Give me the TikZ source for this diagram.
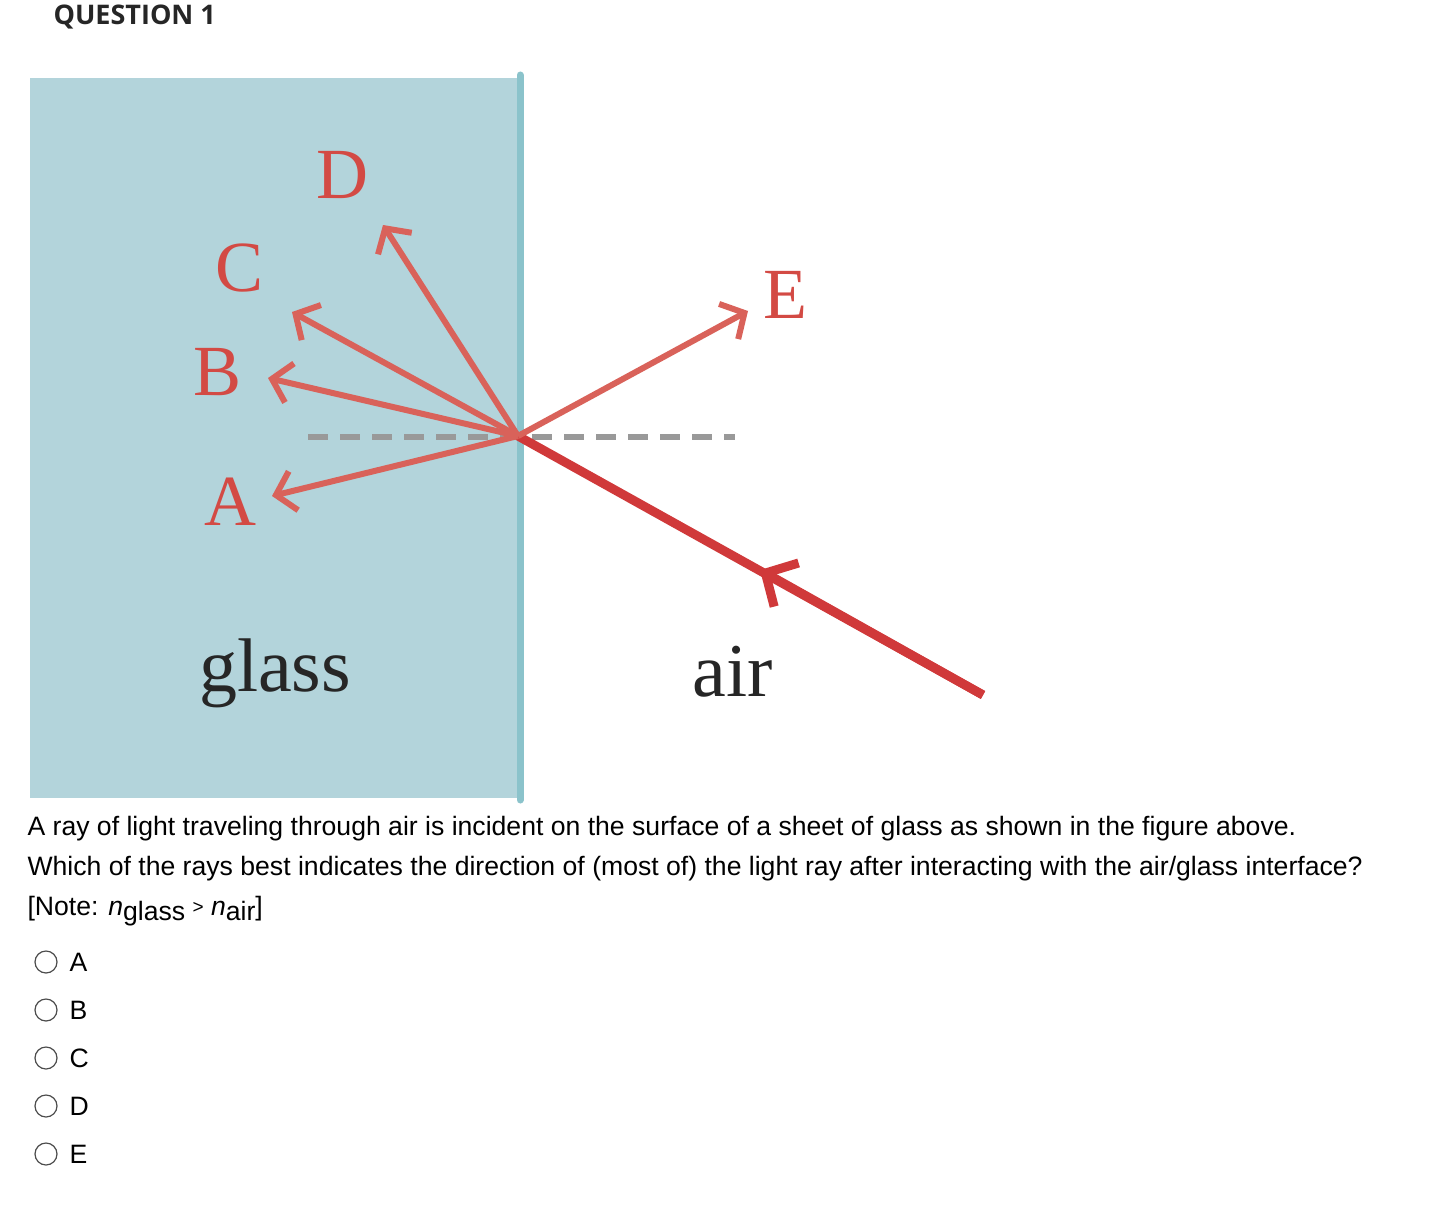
\documentclass[tikz,border=0pt]{standalone}
\usepackage{fontspec}
\setmainfont{Liberation Serif}
\setsansfont{Liberation Sans}
\newfontfamily\opensans{Open Sans}
\usetikzlibrary{arrows.meta}
\definecolor{glassc}{HTML}{B3D4DB}
\definecolor{edgec}{HTML}{8BC3CB}
\definecolor{rayc}{HTML}{D9625A}
\definecolor{incc}{HTML}{D0393A}
\definecolor{labc}{HTML}{D34A44}
\begin{document}
\begin{tikzpicture}[x=1pt,y=-1pt,
  ray/.style={rayc,line width=6pt,-{Straight Barb[length=18pt,width=40pt]}},
  lab/.style={labc,font=\fontsize{72}{74}\selectfont},
  med/.style={font=\fontsize{76}{78}\selectfont,text=black!85},
  q/.style={font=\sffamily\fontsize{26.6}{28}\selectfont,anchor=west},
  opt/.style={circle,draw=black!70,line width=1.2pt,minimum size=22pt,inner sep=0pt}]
\useasboundingbox (0,0) rectangle (1450,1212);
\node[anchor=west,font=\opensans\bfseries\fontsize{27}{30}\selectfont,text=black!85] (title) at (50,17) {QUESTION 1};
\fill[glassc] (30,78) rectangle (520,798);
\coordinate (top) at (520,75);
\coordinate (bot) at (520,800);
\draw[edgec,line width=7pt,line cap=round] (top) -- (bot);
\coordinate (O) at (518,436);
\coordinate (dl) at (308,437);
\coordinate (dr) at (735,437);
\draw[gray!80,line width=6pt,dash pattern=on 20pt off 12pt] (dl) -- (dr);
\coordinate (S) at (983,695);
\coordinate (M) at (760,570);
\draw[incc,line width=9pt] (S) -- (O);
\draw[incc,line width=9pt,-{Straight Barb[length=24pt,width=50pt]}] (S) -- (M);
\coordinate (tA) at (272,496);
\coordinate (tB) at (268,378);
\coordinate (tC) at (292,312);
\coordinate (tD) at (383,225);
\coordinate (tE) at (748,311);
\foreach \t in {tA,tB,tC,tD,tE} \draw[ray] (O) -- (\t);
\node[lab] (A) at (230,502) {A};
\node[lab] (B) at (218,372) {B};
\node[lab] (C) at (240,268) {C};
\node[lab] (D) at (342,175) {D};
\node[lab] (E) at (785,295) {E};
\node[med] (glass) at (275,673) {glass};
\node[med] (air) at (733,672) {air};
\node[q] (l1) at (24,829) {A ray of light traveling through air is incident on the surface of a sheet of glass as shown in the figure above.};
\node[q] (l2) at (24,869) {Which of the rays best indicates the direction of (most of) the light ray after interacting with the air/glass interface?};
\node[q] (l3) at (24,911) {[Note: \textit{n}\raisebox{-5pt}{glass} \raisebox{2pt}{\fontsize{19}{20}\selectfont >} \textit{n}\raisebox{-5pt}{air}]};
\foreach \y/\l in {962/A,1010/B,1058/C,1106/D,1154/E}{
  \node[opt] (c\l) at (46,\y) {};
  \node[q] (o\l) at (66,\y) {\l};
}
\end{tikzpicture}
\end{document}
